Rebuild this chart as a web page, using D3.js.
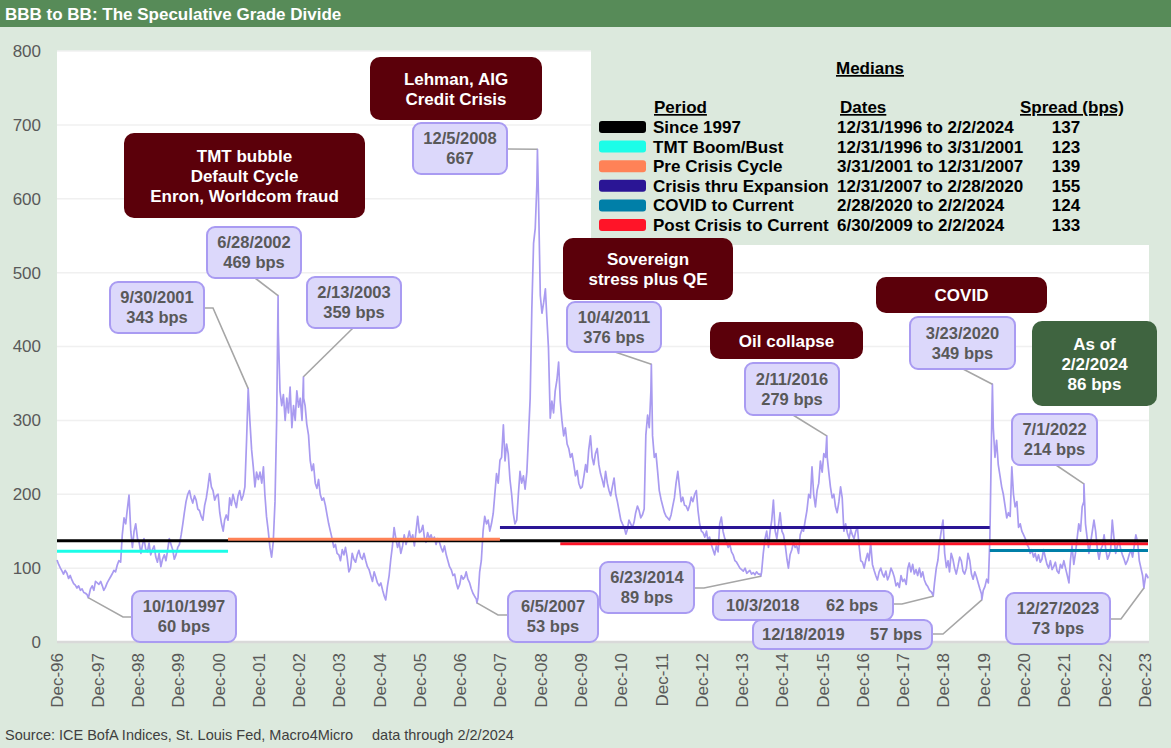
<!DOCTYPE html>
<html>
<head>
<meta charset="utf-8">
<script src="https://cdn.jsdelivr.net/npm/d3@7"></script>
<style>
  body { margin: 0; background: #dce9dd; }
  svg { display: block; font-family: "Liberation Sans", Arial, sans-serif; }
</style>
</head>
<body>
<svg id="chart"></svg>
<script>
// BB minus BBB spread (bps): 12/31/1996, then the 15th and month-end of each month
const spread = [111,
  105,100,96,92,97,93,86,90,84,79,77,73,76,70,72,67,66,64,62,72,76,70,82,80,          // 1997
  78,82,76,70,74,80,84,88,92,97,95,104,110,108,145,168,160,180,199,150,128,150,160,140, // 1998
  135,120,132,140,126,122,134,118,125,130,115,108,120,102,112,118,110,124,140,132,125,112,118,128, // 1999
  132,145,160,175,190,200,205,195,188,198,192,180,178,170,165,185,195,210,228,210,205,192,198,200, // 2000
  175,160,150,165,172,165,195,185,200,190,182,198,205,192,198,210,272,343,300,260,237,210,230,220, // 2001
  230,215,237,200,170,150,128,115,135,190,300,420,340,320,335,300,330,310,345,290,320,300,340,318, // 2002
  330,300,330,320,295,280,246,232,241,215,208,220,200,192,195,185,172,160,150,140,128,132,120,118, // 2003
  110,125,118,128,115,95,100,120,112,108,118,124,115,112,120,110,102,98,90,82,95,88,80,76,          // 2004
  80,70,62,57,75,90,112,130,155,140,128,135,120,130,145,132,140,150,138,145,130,150,170,148,        // 2005
  150,158,140,135,148,140,145,138,142,132,140,135,128,122,130,118,110,102,98,90,92,80,72,78,        // 2006
  90,85,88,95,85,80,72,66,62,58,60,95,110,150,170,160,165,150,160,174,201,228,215,246,              // 2007
  250,294,245,268,255,220,200,174,160,165,200,231,215,225,207,230,279,330,450,540,560,620,597,469,  // 2008
  445,460,478,440,398,303,326,310,340,355,379,326,300,279,290,268,262,250,255,240,225,232,215,208,  // 2009
  210,225,240,230,260,279,250,240,255,262,240,228,220,210,231,215,205,198,210,222,200,190,178,165,  // 2010
  160,155,146,152,165,160,155,162,175,184,178,168,172,180,280,307,290,340,279,250,255,231,205,193,  // 2011
  184,175,170,168,165,172,184,195,215,231,210,190,196,185,184,178,185,196,190,200,205,178,160,150,  // 2012
  148,142,150,138,142,132,125,118,130,122,160,169,150,140,135,128,132,122,118,110,108,104,100,98,   // 2013
  96,100,93,95,97,92,94,91,95,92,92,95,120,140,150,128,150,165,192,150,140,158,175,150,             // 2014
  145,130,112,100,118,125,135,128,130,120,145,152,150,165,178,200,195,237,200,183,205,215,245,230,  // 2015
  255,250,250,230,210,195,200,183,175,190,210,195,150,160,148,140,152,145,140,150,155,130,110,108,  // 2016
  100,112,120,110,134,105,97,90,84,95,100,92,88,96,84,90,100,95,88,76,80,74,90,82,                  // 2017
  85,78,100,107,95,105,92,98,90,100,88,95,84,78,75,70,68,64,80,100,111,135,150,165,                 // 2018
  120,101,110,95,120,112,100,92,102,115,110,96,92,100,120,110,92,85,95,88,80,72,65,70,              // 2019
  75,85,80,140,280,290,250,273,240,225,210,200,185,168,175,170,237,200,183,190,155,160,150,145,     // 2020
  140,132,128,120,125,115,120,110,118,108,112,125,115,105,100,110,98,102,108,96,93,105,100,110,     // 2021
  100,90,80,110,130,105,120,140,160,150,183,190,160,140,120,135,150,165,150,125,112,125,130,145,    // 2022
  125,112,118,125,165,140,120,130,138,125,118,112,105,110,118,125,115,130,145,135,110,100,90,78,    // 2023
  92,88                                                                                             // 2024
];

// annotated highs / lows
const keyDates  = ["10/10/1997","9/30/2001","6/28/2002","2/13/2003","6/5/2007","12/5/2008","10/4/2011",
                   "6/23/2014","2/11/2016","10/3/2018","12/18/2019","3/23/2020","7/1/2022","12/27/2023","2/2/2024"];
const keyValues = [60,343,469,359,53,667,376,89,279,62,57,349,214,73,86];

// medians
const medianNames  = ["Since 1997","TMT Boom/Bust","Pre Crisis Cycle","Crisis thru Expansion","COVID to Current","Post Crisis to Current"];
const medianStarts = ["12/31/1996","12/31/1996","3/31/2001","12/31/2007","2/28/2020","6/30/2009"];
const medianEnds   = ["2/2/2024","3/31/2001","12/31/2007","2/28/2020","2/2/2024","2/2/2024"];
const medianValues = [137,123,139,155,124,133];
const medianColors = ["#000000","#1cfde8","#ff8257","#2a1595","#007fa8","#ff1428"];

const yTicks = [0,100,200,300,400,500,600,700,800];
const tickYears = d3.range(1996, 2024);

const eventLabels = [
  ["TMT bubble","Default Cycle","Enron, Worldcom fraud"],
  ["Lehman, AIG","Credit Crisis"],
  ["Sovereign","stress plus QE"],
  ["Oil collapse"],
  ["COVID"]
];

document.addEventListener('DOMContentLoaded', function () {
    const width = 1171, height = 748;
    const parseDate = d3.timeParse("%m/%d/%Y");
    const svg = d3.select("#chart").attr("width", width).attr("height", height);

    const x = d3.scaleTime()
        .domain([parseDate("12/31/1996"), parseDate("2/2/2024")])
        .range([57, 1148]);
    const y = d3.scaleLinear().domain([0, 800]).range([642, 51]);

    function halfMonthDate(i) {
        if (i === 0) return new Date(1996, 11, 31);
        const k = i - 1;
        const yr = 1997 + Math.floor(k / 24);
        const mo = Math.floor((k % 24) / 2);
        return k % 2 === 0 ? new Date(yr, mo, 15) : new Date(yr, mo + 1, 0);
    }

    const keyPts = keyDates.map((d, i) => ({ date: parseDate(d), value: keyValues[i] }));
    const keyTimes = new Set(keyPts.map(p => +p.date));
    const series = spread.map((v, i) => ({ date: halfMonthDate(i), value: v }))
        .filter(p => !keyTimes.has(+p.date))
        .concat(keyPts)
        .sort((a, b) => a.date - b.date);

    // backgrounds
    svg.append("rect").attr("width", width).attr("height", height).attr("fill", "#dce9dd");
    svg.append("rect").attr("width", width).attr("height", 27).attr("fill", "#578b58");
    svg.append("text").attr("x", 5).attr("y", 20)
        .attr("fill", "#fff").attr("font-weight", "bold").attr("font-size", 17)
        .text("BBB to BB: The Speculative Grade Divide");

    svg.append("rect").attr("x", 57).attr("y", y(800))
        .attr("width", 1149 - 57).attr("height", y(0) - y(800)).attr("fill", "#fff");

    // gridlines
    svg.append("g").selectAll("line").data(yTicks.filter(d => d > 0)).join("line")
        .attr("x1", 57).attr("x2", 1149)
        .attr("y1", d => y(d)).attr("y2", d => y(d))
        .attr("stroke", "#f0f0f0").attr("stroke-width", 1.5);
    svg.append("line").attr("x1", 57).attr("x2", 1149).attr("y1", y(0)).attr("y2", y(0))
        .attr("stroke", "#d9d9d9").attr("stroke-width", 2.5);

    // axes
    const yAxis = svg.append("g").attr("transform", "translate(57,0)")
        .call(d3.axisLeft(y).tickValues(yTicks).tickSize(0).tickPadding(16));
    yAxis.select(".domain").remove();
    yAxis.selectAll("text").attr("font-size", 17).attr("fill", "#595959")
        .attr("font-family", "Liberation Sans, Arial, sans-serif");

    const tickDates = tickYears.map(yr => new Date(yr, 11, 31));
    const xAxis = svg.append("g").attr("transform", `translate(0,${y(0)})`)
        .call(d3.axisBottom(x).tickValues(tickDates).tickFormat(d3.timeFormat("%b-%y")).tickSize(0));
    xAxis.select(".domain").remove();
    xAxis.selectAll("text")
        .attr("transform", "rotate(-90)")
        .attr("text-anchor", "end")
        .attr("x", -11).attr("y", 0).attr("dy", "0.35em")
        .attr("font-size", 17).attr("fill", "#595959")
        .attr("font-family", "Liberation Sans, Arial, sans-serif");

    // legend panel
    svg.append("rect").attr("x", 591).attr("y", 27).attr("width", width - 591).attr("height", 218)
        .attr("fill", "#dce9dd");
    const leg = svg.append("g").attr("font-weight", "bold").attr("font-size", 17).attr("fill", "#000");
    leg.append("text").attr("x", 870).attr("y", 74).attr("text-anchor", "middle")
        .style("text-decoration", "underline").text("Medians");
    leg.append("text").attr("x", 654).attr("y", 113).style("text-decoration", "underline").text("Period");
    leg.append("text").attr("x", 840).attr("y", 113).style("text-decoration", "underline").text("Dates");
    leg.append("text").attr("x", 1020).attr("y", 113).style("text-decoration", "underline").text("Spread (bps)");
    medianNames.forEach((name, i) => {
        const ry = 127 + i * 19.6;
        leg.append("rect").attr("x", 599).attr("y", ry - 6).attr("width", 47).attr("height", 12)
            .attr("rx", 3).attr("fill", medianColors[i]);
        leg.append("text").attr("x", 653).attr("y", ry + 6).text(name);
        leg.append("text").attr("x", 837).attr("y", ry + 6).text(`${medianStarts[i]} to ${medianEnds[i]}`);
        leg.append("text").attr("x", 1066).attr("y", ry + 6).attr("text-anchor", "middle").text(medianValues[i]);
    });

    // spread line
    const line = d3.line().x(d => x(d.date)).y(d => y(d.value));
    svg.append("path").datum(series)
        .attr("d", line).attr("fill", "none")
        .attr("stroke", "#a99bf0").attr("stroke-width", 1.7).attr("stroke-linejoin", "round");

    // median lines
    [5, 0, 1, 2, 3, 4].forEach(i => {
        svg.append("line")
            .attr("x1", x(parseDate(medianStarts[i]))).attr("x2", x(parseDate(medianEnds[i])))
            .attr("y1", y(medianValues[i])).attr("y2", y(medianValues[i]))
            .attr("stroke", medianColors[i]).attr("stroke-width", 3);
    });

    // event boxes
    const eventBoxes = [
        [124, 133, 241, 85], [370, 57, 172, 63], [563, 238, 170, 62], [710, 322, 153, 37], [876, 277, 171, 36]
    ];
    function darkBox(b, lines, fill) {
        const g = svg.append("g");
        g.append("rect").attr("x", b[0]).attr("y", b[1]).attr("width", b[2]).attr("height", b[3])
            .attr("rx", 10).attr("fill", fill);
        const cy = b[1] + b[3] / 2;
        lines.forEach((t, j) => {
            g.append("text").attr("x", b[0] + b[2] / 2).attr("y", cy + (j - (lines.length - 1) / 2) * 20)
                .attr("dy", "0.36em").attr("text-anchor", "middle")
                .attr("fill", "#fff").attr("font-weight", "bold").attr("font-size", 17).text(t);
        });
    }
    eventLabels.forEach((lines, i) => darkBox(eventBoxes[i], lines, "#5b000a"));
    const last = keyPts.length - 1;
    darkBox([1032, 321, 125, 85], ["As of", keyDates[last], `${keyValues[last]} bps`], "#3f6440");

    // callouts for highs and lows
    const callouts = [
        { box: [132, 591, 104, 51], a: [132, 617], e: [123, 617] },
        { box: [110, 282, 94, 51], a: [204, 308], e: [213, 308] },
        { box: [207, 227, 94, 51], a: [255, 278] },
        { box: [307, 277, 94, 51], a: [353, 328] },
        { box: [508, 591, 90, 51], a: [508, 615], e: [498, 615] },
        { box: [413, 123, 94, 51], a: [507, 149], noUnit: true },
        { box: [567, 302, 94, 50], a: [615, 352] },
        { box: [600, 562, 94, 51], a: [694, 588], e: [704, 588] },
        { box: [745, 363, 94, 52], a: [793, 415] },
        { box: [713, 591, 180, 29], a: [893, 604], e: [902, 604], inline: [13, 113] },
        { box: [753, 620, 179, 29], a: [932, 634], e: [943, 634], inline: [9, 117] },
        { box: [910, 317, 105, 52], a: [963, 369] },
        { box: [1012, 414, 85, 51], a: [1056, 465] },
        { box: [1006, 593, 104, 51], a: [1110, 619], e: [1121, 619] }
    ];
    const leaders = svg.append("g");
    const boxes = svg.append("g").attr("font-weight", "bold").attr("font-size", 16.5).attr("fill", "#595959");
    callouts.forEach((c, i) => {
        const p = keyPts[i];
        const pts = [c.a].concat(c.e ? [c.e] : []).concat([[x(p.date), y(p.value)]]);
        leaders.append("path").attr("d", d3.line()(pts))
            .attr("fill", "none").attr("stroke", "#a6a6a6").attr("stroke-width", 1.6);

        const b = c.box;
        boxes.append("rect").attr("x", b[0]).attr("y", b[1]).attr("width", b[2]).attr("height", b[3])
            .attr("rx", 8).attr("fill", "#dcd8fb").attr("stroke", "#a99bf2").attr("stroke-width", 2);
        const valText = c.noUnit ? `${keyValues[i]}` : `${keyValues[i]} bps`;
        const cy = b[1] + b[3] / 2;
        if (c.inline) {
            boxes.append("text").attr("x", b[0] + c.inline[0]).attr("y", cy).attr("dy", "0.36em").text(keyDates[i]);
            boxes.append("text").attr("x", b[0] + c.inline[1]).attr("y", cy).attr("dy", "0.36em").text(valText);
        } else {
            [keyDates[i], valText].forEach((t, j) => {
                boxes.append("text").attr("x", b[0] + b[2] / 2).attr("y", cy + (j - 0.5) * 20)
                    .attr("dy", "0.36em").attr("text-anchor", "middle").text(t);
            });
        }
    });

    // source
    svg.append("text").attr("x", 5).attr("y", 740).attr("font-size", 14.5).attr("fill", "#404040")
        .text("Source: ICE BofA Indices, St. Louis Fed, Macro4Micro");
    svg.append("text").attr("x", 372).attr("y", 740).attr("font-size", 14.5).attr("fill", "#404040")
        .text("data through 2/2/2024");
});
</script>
</body>
</html>
